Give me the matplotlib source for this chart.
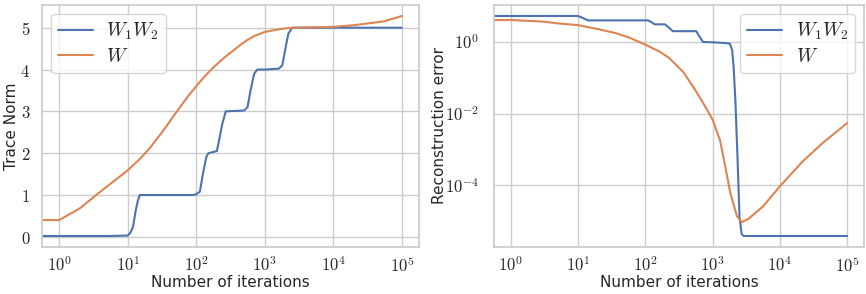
import numpy as np
import matplotlib
matplotlib.use("Agg")
import matplotlib.pyplot as plt
import matplotlib.ticker as ticker
import seaborn as sns

# iterations (x=0 included: log axis clips it to the left edge)
trace_w1w2_iter = [0, 1, 5, 10, 11, 12, 13, 14, 15, 20, 50, 90, 100, 113, 125, 140, 150, 200,
                   215, 240, 270, 500, 560, 620, 700, 780, 1000, 1600, 1800, 2000, 2200, 2500,
                   10000, 100000]
trace_w1w2 = [0.02, 0.02, 0.02, 0.03, 0.1, 0.25, 0.6, 0.85, 1.0, 1.0, 1.0, 1.0, 1.02, 1.08,
              1.5, 1.9, 2.0, 2.05, 2.3, 2.7, 3.0, 3.02, 3.1, 3.5, 3.9, 4.0, 4.0, 4.02, 4.1,
              4.5, 4.85, 5.0, 5.0, 5.0]

trace_w_iter = [0, 1, 2, 4, 10, 15, 21, 30, 37, 45, 58, 75, 100, 130, 178, 250, 350, 450, 550,
                700, 1000, 1870, 2640, 10000, 20000, 31000, 54000, 100000]
trace_w = [0.4, 0.4, 0.68, 1.08, 1.59, 1.86, 2.12, 2.45, 2.65, 2.85, 3.1, 3.35, 3.6, 3.82,
           4.05, 4.27, 4.46, 4.6, 4.7, 4.8, 4.9, 4.98, 5.0, 5.02, 5.06, 5.1, 5.15, 5.28]

rec_w1w2_iter = [0, 1, 10, 12, 14, 110, 125, 138, 195, 225, 255, 570, 640, 720, 1000, 1580,
                 1800, 1950, 2050, 2180, 2350, 2510, 2700, 2900, 100000]
rec_w1w2 = [5.3, 5.3, 5.3, 4.6, 4.0, 4.0, 3.5, 3.1, 3.1, 2.5, 2.0, 2.0, 1.4, 1.0, 0.98, 0.93,
            0.9, 0.6, 0.2, 0.023, 5e-4, 1.3e-5, 4.4e-6, 3.9e-6, 3.9e-6]

rec_w_iter = [0, 1, 3, 5, 10, 21, 37, 59, 100, 163, 229, 363, 515, 690, 855, 1000, 1290, 1540,
              1830, 2300, 2700, 3400, 5600, 10000, 21600, 42700, 100000]
rec_w = [4.2, 4.1, 3.7, 3.3, 2.95, 2.23, 1.75, 1.3, 0.84, 0.54, 0.35, 0.148, 0.056, 0.023,
         0.0115, 0.0068, 1.8e-3, 3.4e-4, 6.2e-5, 1.4e-5, 9.5e-6, 1.17e-5, 2.6e-5, 9.5e-5,
         4.6e-4, 1.5e-3, 5.5e-3]

labels = [r"$W_1W_2$", r"$W$"]

sns.set_theme(style="whitegrid")
plt.rcParams["mathtext.fontset"] = "cm"
plt.rcParams["font.family"] = ["DejaVu Sans"]

blue, orange = sns.color_palette("deep")[:2]


def pow_fmt(v, pos):
    return r"$10^{%d}$" % int(round(np.log10(v)))


def int_fmt(v, pos):
    return r"$%d$" % int(round(v))


fig = plt.figure(figsize=(8.66, 2.94), dpi=100)
ax1 = fig.add_axes([42 / 866, 47 / 294, 377 / 866, 242 / 294])
ax2 = fig.add_axes([494 / 866, 47 / 294, 370 / 866, 242 / 294])

ax1.plot(trace_w1w2_iter, trace_w1w2, color=blue, lw=1.5, label=labels[0])
ax1.plot(trace_w_iter, trace_w, color=orange, lw=1.5, label=labels[1])
ax1.set_xscale("log")
ax1.set_ylabel("Trace Norm", fontsize=11)
ax1.yaxis.set_label_coords(-0.062, 0.5)
ax1.yaxis.set_major_locator(ticker.MultipleLocator(1))
ax1.yaxis.set_major_formatter(ticker.FuncFormatter(int_fmt))
ax1.tick_params(axis="y", labelsize=12, pad=2.5)

ax2.plot(rec_w1w2_iter, rec_w1w2, color=blue, lw=1.5, label=labels[0])
ax2.plot(rec_w_iter, rec_w, color=orange, lw=1.5, label=labels[1])
ax2.set_xscale("log")
ax2.set_yscale("log")
ax2.set_ylabel("Reconstruction error", fontsize=11)
ax2.yaxis.set_label_coords(-0.128, 0.5)
ax2.yaxis.set_major_locator(ticker.LogLocator(base=100.0))
ax2.yaxis.set_minor_locator(ticker.NullLocator())
ax2.yaxis.set_major_formatter(ticker.FuncFormatter(pow_fmt))
ax2.tick_params(axis="y", labelsize=12, pad=5)

for ax in (ax1, ax2):
    ax.set_xlabel("Number of iterations", fontsize=11)
    ax.xaxis.set_label_coords(0.5, -0.114)
    ax.xaxis.set_major_locator(ticker.LogLocator(base=10.0))
    ax.xaxis.set_minor_locator(ticker.NullLocator())
    ax.xaxis.set_major_formatter(ticker.FuncFormatter(pow_fmt))
    ax.tick_params(axis="x", labelsize=12, pad=1)

leg_kw = dict(fontsize=14, handlelength=1.8, handletextpad=0.7, labelspacing=0.25,
              borderpad=0.35, borderaxespad=0.45)
ax1.legend(loc="upper left", **leg_kw)
ax2.legend(loc="upper right", **leg_kw)

fig.savefig("out.png", dpi=100)
